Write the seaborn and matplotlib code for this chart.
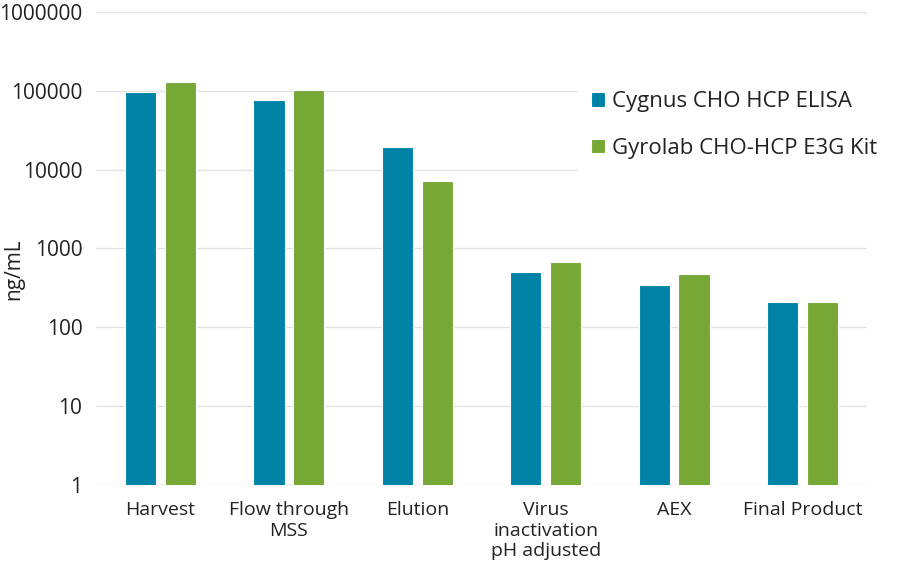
import matplotlib
matplotlib.use("Agg")
import matplotlib.pyplot as plt
from matplotlib.ticker import FixedLocator, FixedFormatter, NullLocator
import seaborn as sns
import pandas as pd

steps = ["Harvest", "Flow through\nMSS", "Elution", "Virus\ninactivation\npH adjusted", "AEX", "Final Product"]
cygnus = [97000, 77000, 19600, 496, 340, 208]
gyrolab = [130000, 103000, 7250, 665, 468, 208]
series = ["Cygnus CHO HCP ELISA", "Gyrolab CHO-HCP E3G Kit"]
yticks = [1, 10, 100, 1000, 10000, 100000, 1000000]

df = pd.DataFrame({
    "step": steps * 2,
    "value": cygnus + gyrolab,
    "kit": [series[0]] * len(steps) + [series[1]] * len(steps),
})

sns.set_theme(style="white")
plt.rcParams["font.family"] = ["Open Sans", "DejaVu Sans"]
text_color = "#222222"

fig = plt.figure(figsize=(9, 5.69), dpi=100)
ax = fig.add_axes([0.107, 0.148, 0.856, 0.831])

palette = {series[0]: "#0083a7", series[1]: "#77a836"}
sns.barplot(data=df, x="step", y="value", hue="kit", palette=palette,
            width=0.62, gap=0.22, edgecolor="white", linewidth=0.8,
            saturation=1, ax=ax, zorder=2)

ax.set_yscale("log")
ax.set_ylim(1, 1000000)
ax.yaxis.set_major_locator(FixedLocator(yticks))
ax.yaxis.set_major_formatter(FixedFormatter([str(v) for v in yticks]))
ax.yaxis.set_minor_locator(NullLocator())
ax.grid(axis="y", color="#e3e3e3", linewidth=1, zorder=0)
ax.set_axisbelow(True)
for s in ax.spines.values():
    s.set_visible(False)
ax.tick_params(axis="x", length=0, labelsize=14, colors=text_color, pad=12)
ax.tick_params(axis="y", length=0, labelsize=15, colors=text_color, pad=10)
for lbl in ax.get_xticklabels():
    lbl.set_linespacing(1.15)
ax.set_xlabel("")
ax.set_ylabel("ng/mL", fontsize=15, color=text_color)
ax.yaxis.set_label_coords(-0.093, 0.455)

leg = ax.legend(loc="upper left", bbox_to_anchor=(578 / 900, 1 - 78 / 569),
                bbox_transform=fig.transFigure, borderaxespad=0, frameon=True,
                fontsize=16, handlelength=0.6, handleheight=0.6,
                handletextpad=0.35, labelspacing=1.15, borderpad=0.6)
leg.get_frame().set_facecolor("white")
leg.get_frame().set_edgecolor("white")
leg.get_frame().set_alpha(1)
for t in leg.get_texts():
    t.set_color(text_color)

fig.savefig("out.png", dpi=100)
